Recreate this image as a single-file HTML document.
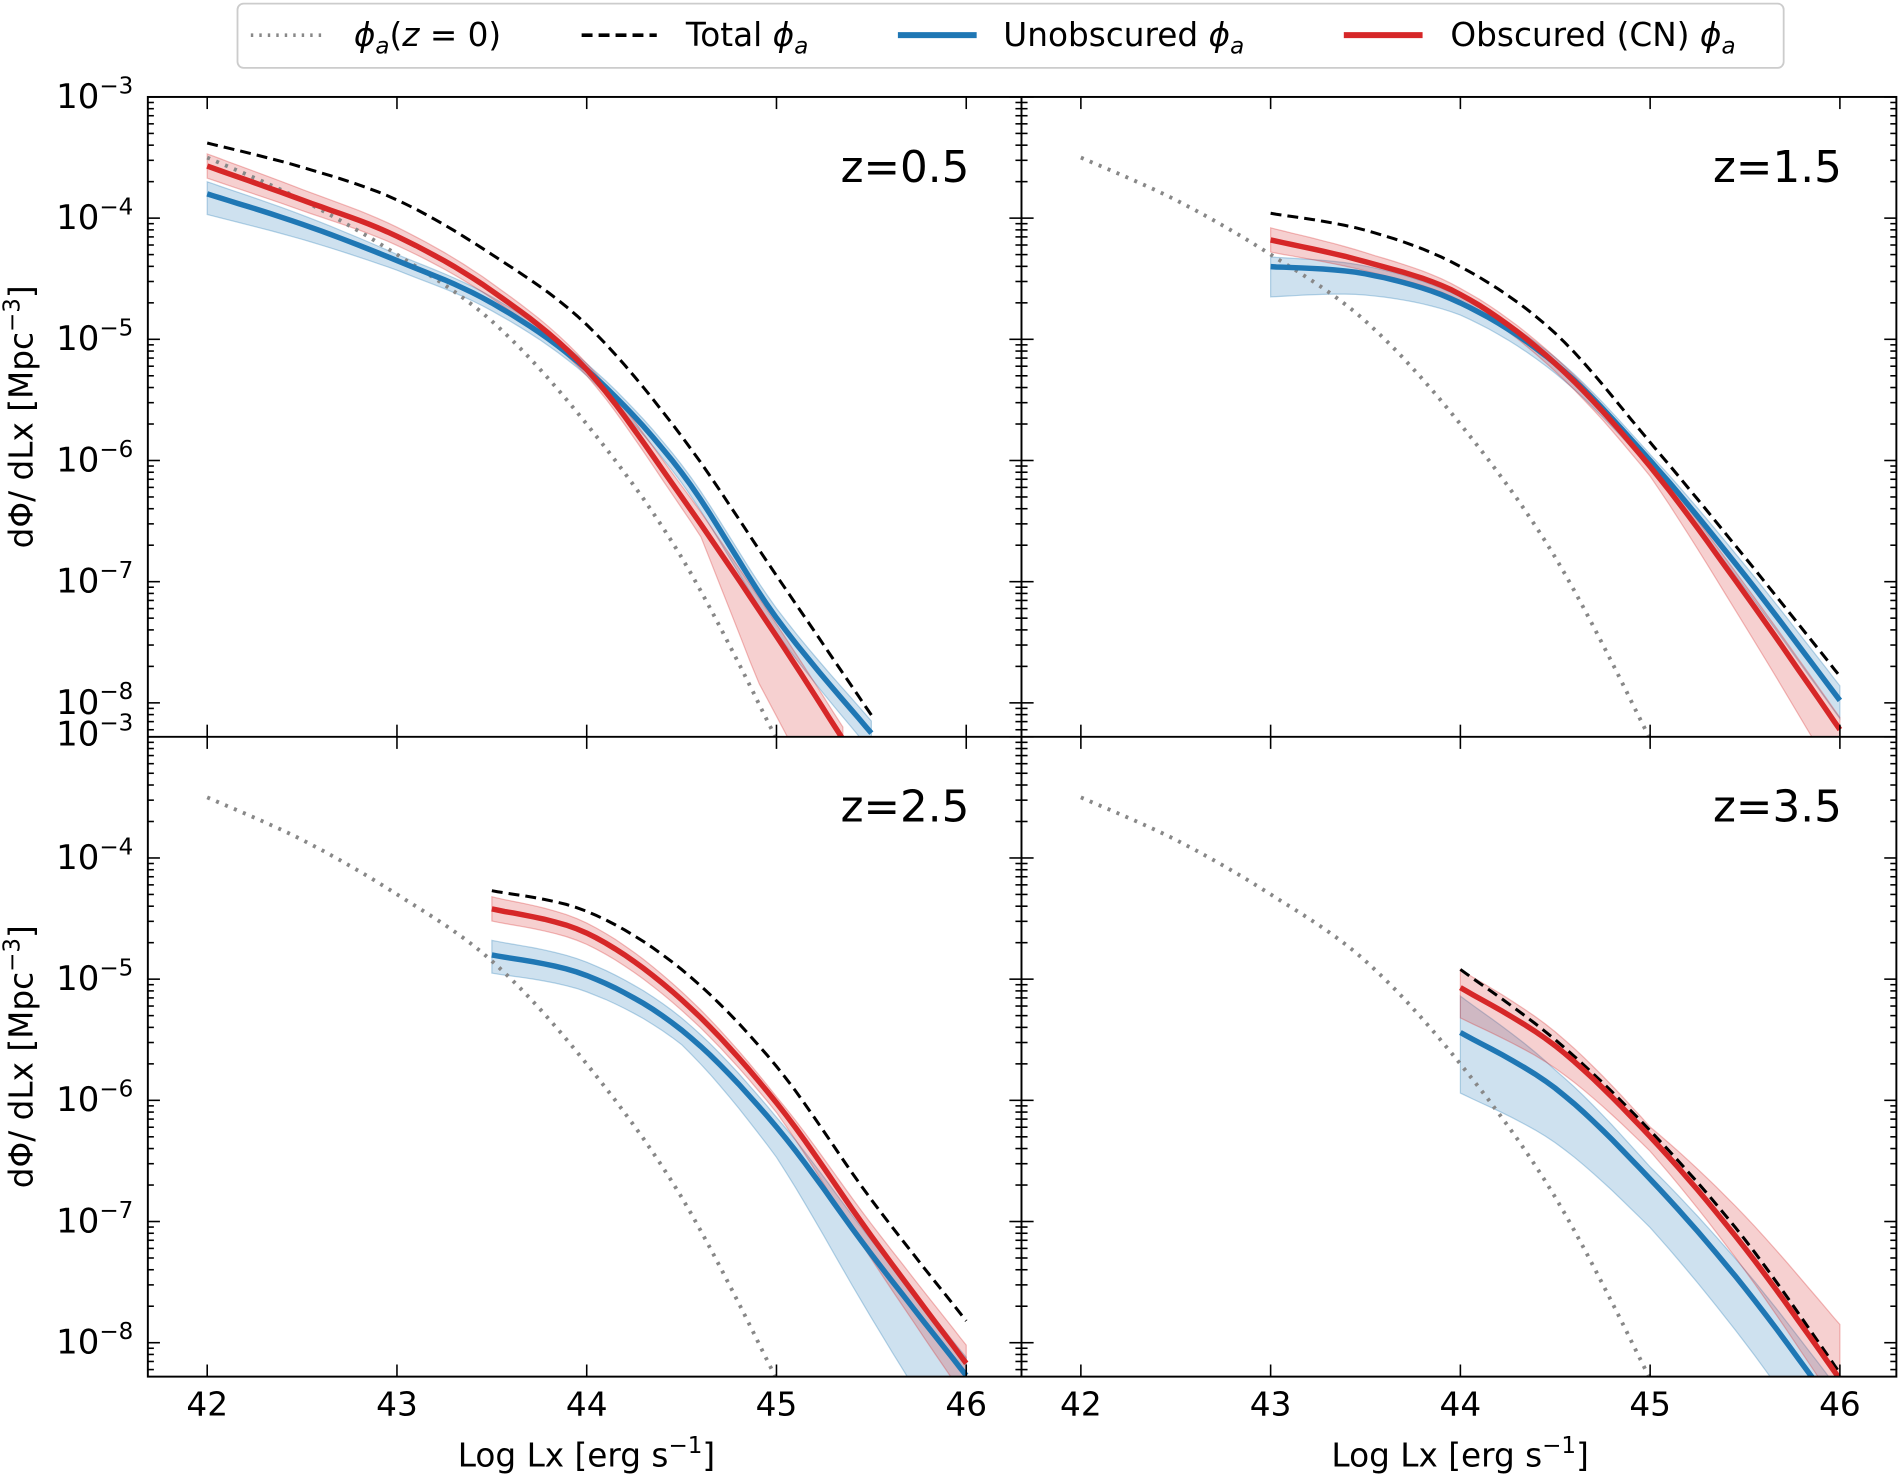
<!DOCTYPE html>
<html><head><meta charset="utf-8"><style>
html,body{margin:0;padding:0;background:#fff}
svg{display:block}
text{font-family:"DejaVu Sans","Liberation Sans",sans-serif;fill:#000}
</style></head><body>
<svg id="s" width="1900" height="1476" viewBox="0 0 1568 1218" preserveAspectRatio="none" xmlns="http://www.w3.org/2000/svg">
<defs>
<clipPath id="c0"><rect x="122" y="80" width="721" height="528"/></clipPath>
<clipPath id="c1"><rect x="843" y="80" width="722" height="528"/></clipPath>
<clipPath id="c2"><rect x="122" y="608" width="721" height="528"/></clipPath>
<clipPath id="c3"><rect x="843" y="608" width="722" height="528"/></clipPath>
</defs>
<g id="plots"></g>
<g id="axes" fill="none" stroke="#000" stroke-width="1.6">
<rect x="122" y="80" width="1443" height="1056"/>
<line x1="843" y1="80" x2="843" y2="1136"/>
<line x1="122" y1="608" x2="1565" y2="608"/>
</g>
<g id="ticks" stroke="#000" stroke-width="1.3"></g>
<g id="labels" font-size="27"></g>
<rect x="196" y="3" width="1276" height="53" rx="5" fill="#fff" stroke="#ccc" stroke-width="1.5"/>
<line x1="207" y1="29" x2="268" y2="29" stroke="#888" stroke-width="3" stroke-dasharray="2,5"/>
<text x="292" y="38" font-size="27"><tspan font-style="italic">ϕ</tspan><tspan font-size="19" dy="6" font-style="italic">a</tspan><tspan dy="-6">(</tspan><tspan font-style="italic">z</tspan> = 0)</text>
<line x1="480" y1="29" x2="542" y2="29" stroke="#000" stroke-width="3" stroke-dasharray="9,5"/>
<text x="566" y="38" font-size="27">Total <tspan font-style="italic">ϕ</tspan><tspan font-size="19" dy="6" font-style="italic">a</tspan></text>
<line x1="741" y1="29" x2="806" y2="29" stroke="#1f77b4" stroke-width="5"/>
<text x="828" y="38" font-size="27">Unobscured <tspan font-style="italic">ϕ</tspan><tspan font-size="19" dy="6" font-style="italic">a</tspan></text>
<line x1="1109" y1="29" x2="1174" y2="29" stroke="#d62728" stroke-width="5"/>
<text x="1197" y="38" font-size="27">Obscured (CN) <tspan font-style="italic">ϕ</tspan><tspan font-size="19" dy="6" font-style="italic">a</tspan></text>
</svg>
<script>
var NS="http://www.w3.org/2000/svg";
function el(p,t,a,txt){var e=document.createElementNS(NS,t);for(var k in a)e.setAttribute(k,a[k]);if(txt!=null)e.textContent=txt;p.appendChild(e);return e;}
var panels=[{x0:171,yt:80,c:"c0",z:"z=0.5",zx:800,zy:150},{x0:892,yt:80,c:"c1",z:"z=1.5",zx:1520,zy:150},
{x0:171,yt:608,c:"c2",z:"z=2.5",zx:800,zy:678},{x0:892,yt:608,c:"c3",z:"z=3.5",zx:1520,zy:678}];
function P(p,L,v){return [p.x0+(L-42)*156.6, p.yt+(-3-v)*100];}
function interp(pts,n){
 var out=[];for(var i=0;i<pts.length-1;i++){var p0=pts[Math.max(0,i-1)],p1=pts[i],p2=pts[i+1],p3=pts[Math.min(pts.length-1,i+2)];
 for(var j=0;j<n;j++){var t=j/n,t2=t*t,t3=t2*t;
 var f=function(a,b,c,d){return 0.5*((2*b)+(-a+c)*t+(2*a-5*b+4*c-d)*t2+(-a+3*b-3*c+d)*t3);};
 out.push([f(p0[0],p1[0],p2[0],p3[0]),f(p0[1],p1[1],p2[1],p3[1])]);}}
 out.push(pts[pts.length-1]);return out;}
function path(p,pts){return pts.map(function(q,i){var a=P(p,q[0],q[1]);return (i?"L":"M")+a[0].toFixed(1)+","+a[1].toFixed(1);}).join("");}
var dotted=[[42,-3.5],[42.5,-3.85],[43,-4.3],[43.5,-4.85],[44,-5.7],[44.5,-6.8],[45,-8.3],[45.2,-9.0]];
var data=[
{tot:[[42,-3.38],[42.5,-3.58],[43,-3.85],[43.5,-4.3],[44,-4.88],[44.5,-5.8],[45,-6.95],[45.5,-8.1]],
 red:[[42,-3.57],[42.5,-3.85],[43,-4.15],[43.5,-4.6],[44,-5.25],[44.5,-6.3],[45,-7.45],[45.35,-8.3]],
 blue:[[42,-3.8],[42.5,-4.05],[43,-4.35],[43.5,-4.7],[44,-5.25],[44.5,-6.1],[45,-7.3],[45.5,-8.25]],
 rb:[[42,0.1,0.1],[44,0.05,0.05],[44.6,0.1,0.1],[44.9,0.6,0.1],[45.4,0.9,0.1]],
 bb:[[42,0.17,0.1],[43,0.08,0.05],[44,0.05,0.05],[45,0.12,0.08],[45.5,0.15,0.1]]},
{tot:[[43,-3.96],[43.5,-4.1],[44,-4.4],[44.5,-4.95],[45,-5.85],[45.5,-6.8],[46,-7.78]],
 red:[[43,-4.18],[43.5,-4.36],[44,-4.63],[44.5,-5.2],[45,-6.05],[45.5,-7.1],[46,-8.22]],
 blue:[[43,-4.4],[43.5,-4.46],[44,-4.7],[44.5,-5.2],[45,-6.0],[45.5,-6.95],[46,-7.98]],
 rb:[[43,0.1,0.1],[44,0.05,0.05],[45,0.08,0.05],[46,0.45,0.1]],
 bb:[[43,0.25,0.08],[44,0.1,0.05],[45,0.06,0.05],[46,0.15,0.12]]},
{tot:[[43.5,-4.27],[44,-4.44],[44.5,-4.92],[45,-5.72],[45.5,-6.82],[46,-7.82]],
 red:[[43.5,-4.42],[44,-4.62],[44.5,-5.17],[45,-6.02],[45.5,-7.12],[46,-8.17]],
 blue:[[43.5,-4.8],[44,-4.97],[44.5,-5.42],[45,-6.22],[45.5,-7.27],[46,-8.27]],
 rb:[[43.5,0.1,0.1],[45,0.08,0.05],[46,0.3,0.15]],
 bb:[[43.5,0.15,0.12],[44.5,0.12,0.1],[45,0.25,0.08],[46,0.8,0.15]]},
{tot:[[44,-4.92],[44.5,-5.5],[45,-6.25],[45.5,-7.15],[46,-8.25]],
 red:[[44,-5.07],[44.5,-5.55],[45,-6.3],[45.5,-7.22],[46,-8.3]],
 blue:[[44,-5.44],[44.5,-5.9],[45,-6.65],[45.5,-7.55],[46,-8.6]],
 rb:[[44,0.25,0.15],[45,0.12,0.08],[46,0.25,0.45]],
 bb:[[44,0.5,0.3],[44.5,0.45,0.15],[45,0.4,0.1],[46,0.5,0.2]]}];
function offs(b,L){if(L<=b[0][0])return b[0];for(var i=0;i<b.length-1;i++)if(L<=b[i+1][0]){var t=(L-b[i][0])/(b[i+1][0]-b[i][0]);return [L,b[i][1]+t*(b[i+1][1]-b[i][1]),b[i][2]+t*(b[i+1][2]-b[i][2])];}return b[b.length-1];}
function band(p,g,line,b,col){var s=interp(line,10);var up=s.map(function(q){var o=offs(b,q[0]);return [q[0],q[1]+o[2]];});
 var lo=s.map(function(q){var o=offs(b,q[0]);return [q[0],q[1]-o[1]];}).reverse();
 el(g,"path",{d:path(p,up)+path(p,lo).replace("M","L")+"Z",fill:col,"fill-opacity":0.22,stroke:col,"stroke-opacity":0.3,"stroke-width":1});}
var G=document.getElementById("plots");
panels.forEach(function(p,i){var g=el(G,"g",{"clip-path":"url(#"+p.c+")"});var d=data[i];
 band(p,g,d.blue,d.bb,"#1f77b4");band(p,g,d.red,d.rb,"#d62728");
 el(g,"path",{d:path(p,interp(dotted,10)),fill:"none",stroke:"#888","stroke-width":3.2,"stroke-dasharray":"2.5,5.5"});
 el(g,"path",{d:path(p,interp(d.tot,10)),fill:"none",stroke:"#000","stroke-width":2.5,"stroke-dasharray":"9,5"});
 el(g,"path",{d:path(p,interp(d.blue,10)),fill:"none",stroke:"#1f77b4","stroke-width":4.5});
 el(g,"path",{d:path(p,interp(d.red,10)),fill:"none",stroke:"#d62728","stroke-width":4.5});
});
var T=document.getElementById("ticks"),Lb=document.getElementById("labels");
panels.forEach(function(p,i){
 var xl=(i%2==0)?122:843,xr=(i%2==0)?843:1565,yb=p.yt+528;
 for(var L=42;L<=46;L++){var x=p.x0+(L-42)*156.6;el(T,"line",{x1:x,y1:p.yt,x2:x,y2:p.yt+10});el(T,"line",{x1:x,y1:yb,x2:x,y2:yb-10});}
 for(var e=3;e<=8;e++){for(var m=1;m<10;m++){var y=p.yt+(e-3)*100-Math.log10(m)*100;if(y<p.yt-0.5||y>yb+0.5)continue;var len=m==1?10:5;
  el(T,"line",{x1:xl,y1:y,x2:xl+len,y2:y});el(T,"line",{x1:xr,y1:y,x2:xr-len,y2:y});}}
 for(var m=2;m<10;m++){var y=p.yt+600-Math.log10(m)*100;if(y<=yb){el(T,"line",{x1:xl,y1:y,x2:xl+5,y2:y});el(T,"line",{x1:xr,y1:y,x2:xr-5,y2:y});}}
 el(Lb,"text",{x:p.zx,y:p.zy,"text-anchor":"end","font-size":"36"},p.z);
});
function ylab(y,e){var t=el(Lb,"text",{x:110,y:y+9,"text-anchor":"end","font-size":"28"});
 el(t,"tspan",{},"10");el(t,"tspan",{dy:-12,"font-size":"19"},"−"+e);}
[80,180,280,380,480,580].forEach(function(y,k){ylab(y,k+3);});
ylab(606,3);[708,808,908,1008,1108].forEach(function(y,k){ylab(y,k+4);});
[171,892].forEach(function(x0){for(var L=42;L<=46;L++)el(Lb,"text",{x:x0+(L-42)*156.6,y:1168,"text-anchor":"middle","font-size":"27"},""+L);
 var t=el(Lb,"text",{x:x0+313,y:1210,"text-anchor":"middle","font-size":"27"},"Log Lx [erg s");el(t,"tspan",{dy:-11,"font-size":"19"},"−1");el(t,"tspan",{dy:11},"]");});
[344,872].forEach(function(y){var t=el(Lb,"text",{x:0,y:0,"text-anchor":"middle","font-size":"27",transform:"translate(27,"+y+") rotate(-90)"},"dΦ/ dLx [Mpc");el(t,"tspan",{dy:-11,"font-size":"19"},"−3");el(t,"tspan",{dy:11},"]");});
</script>
</body></html>
